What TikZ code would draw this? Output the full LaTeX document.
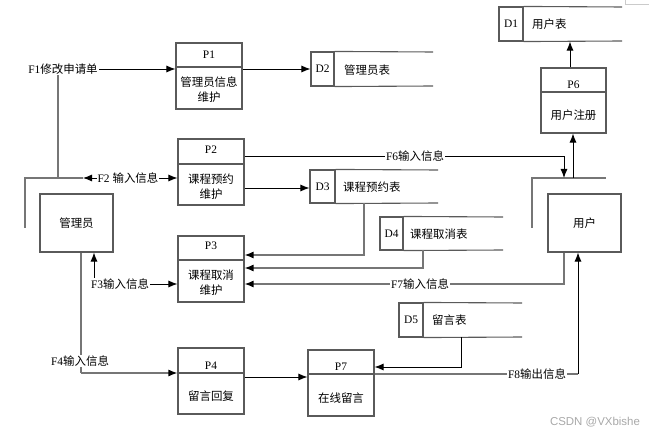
\documentclass[tikz,border=0pt]{standalone}
\usepackage{fontspec}
\setmainfont{Liberation Serif}
\newfontfamily\cjk{Noto Sans CJK SC}
\newfontfamily\wmfont{Liberation Sans}
\usetikzlibrary{arrows.meta}
\definecolor{boxgray}{HTML}{5A5A5A}
\definecolor{linegray}{HTML}{767676}
\definecolor{wmgray}{HTML}{A8A8A8}
\begin{document}
\begin{tikzpicture}[x=1bp,y=-1bp,
  every node/.style={font=\rmfamily\fontsize{11.5}{16}\selectfont, inner sep=0pt},
  box/.style={draw=boxgray, line width=1.1bp},
  idcell/.style={draw=boxgray, line width=1.1bp},
  sline/.style={draw=boxgray, line width=1.1bp},
  gl/.style={draw=linegray, line width=1.3bp},
  bl/.style={draw=black, line width=0.9bp},
  tip/.style={-{Latex[length=9bp,width=7bp,color=black]}},
  tips/.style={{Latex[length=9bp,width=7bp,color=black]}-{Latex[length=9bp,width=7bp,color=black]}},
  lab/.style={fill=white, inner sep=1bp},
  txt/.style={align=center}
]
\useasboundingbox (0,0) rectangle (657,437);
\draw[draw=wmgray!60, line width=0.6bp] (625,0) -- (625,4) -- (649,4);

% ---------- processes ----------
\node[box, minimum width=66bp, minimum height=66bp] (P1) at (209,76) {};
\draw[sline] (176,67) -- (242,67);
\node (P1h) at (209,55) {P1};
\node[txt] (P1t) at (209,90) {\cjk 管理员信息\\[-1bp]\cjk 维护};

\node[box, minimum width=66bp, minimum height=66bp] (P2) at (211,172) {};
\draw[sline] (178,164) -- (244,164);
\node (P2h) at (211,150) {P2};
\node[txt] (P2t) at (211,187) {\cjk 课程预约\\[-1bp]\cjk 维护};

\node[box, minimum width=66bp, minimum height=66bp] (P3) at (211,269) {};
\draw[sline] (178,260) -- (244,260);
\node (P3h) at (211,246) {P3};
\node[txt] (P3t) at (211,283) {\cjk 课程取消\\[-1bp]\cjk 维护};

\node[box, minimum width=66bp, minimum height=66bp] (P4) at (211,381) {};
\draw[sline] (178,373) -- (244,373);
\node (P4h) at (211,366) {P4};
\node (P4t) at (211,396) {\cjk 留言回复};

\node[box, minimum width=66bp, minimum height=66bp] (P7) at (341,383) {};
\draw[sline] (308,374) -- (374,374);
\node (P7h) at (341,367) {P7};
\node (P7t) at (341,398) {\cjk 在线留言};

\node[box, minimum width=65bp, minimum height=65bp] (P6) at (573.5,100.5) {};
\draw[sline] (541,92) -- (606,92);
\node (P6h) at (573.5,85) {P6};
\node (P6t) at (573.5,115) {\cjk 用户注册};

% ---------- data stores ----------
\node[idcell, minimum width=24bp, minimum height=34bp] (D1) at (511,24) {D1};
\draw[sline] (D1.north east) -- (622,7);
\draw[sline] (D1.south east) -- (622,41);
\node[anchor=west] (D1t) at (532,24) {\cjk 用户表};

\node[idcell, minimum width=23bp, minimum height=34bp] (D2) at (322.5,69) {D2};
\draw[sline] (D2.north east) -- (433,52);
\draw[sline] (D2.south east) -- (433,86);
\node[anchor=west] (D2t) at (344,70) {\cjk 管理员表};

\node[idcell, minimum width=25bp, minimum height=33bp] (D3) at (322.5,186.5) {D3};
\draw[sline] (D3.north east) -- (438,170);
\draw[sline] (D3.south east) -- (438,203);
\node[anchor=west] (D3t) at (343,187) {\cjk 课程预约表};

\node[idcell, minimum width=23bp, minimum height=33bp] (D4) at (391.5,233.5) {D4};
\draw[sline] (D4.north east) -- (503,217);
\draw[sline] (D4.south east) -- (503,250);
\node[anchor=west] (D4t) at (410,234) {\cjk 课程取消表};

\node[idcell, minimum width=24bp, minimum height=34bp] (D5) at (411,320) {D5};
\draw[sline] (D5.north east) -- (522,303);
\draw[sline] (D5.south east) -- (522,337);
\node[anchor=west] (D5t) at (432,320) {\cjk 留言表};

% ---------- external entities ----------
\node[box, minimum width=73bp, minimum height=58bp] (adm) at (76.5,223) {\cjk 管理员};
\coordinate (admA) at (25,228);
\coordinate (admB) at (25,178);
\coordinate (admC) at (83,178);
\coordinate (admF1) at (58,178);
\draw[gl] (admA) -- (admB) -- (admC);

\node[box, minimum width=73bp, minimum height=58bp] (usr) at (584.5,223) {\cjk 用户};
\coordinate (usrA) at (532,228);
\coordinate (usrB) at (532,178);
\coordinate (usrC) at (606,178);
\draw[gl] (usrA) -- (usrB) -- (usrC);

% store bottom taps
\coordinate (D3b) at (364,203);
\coordinate (D4b) at (423,250);
\coordinate (D5b) at (461,337);

% ---------- connectors ----------
% F1
\draw[gl] (admF1) -- (58,69);
\draw[bl,tip] (58,69) -- (P1.west |- 0,69);
\node[lab] (F1) at (63,69) {F1\cjk 修改申请单};

% P1 -> D2
\draw[bl,tip] (P1.east |- D2.west) -- (D2.west);

% F2
\draw[bl,tips] (admC) -- (P2.west |- admC);
\node[lab] (F2) at (128,178) {F2 \cjk 输入信息};

% P2 -> D3
\draw[bl,tip] (P2.east |- 0,188) -- (D3.west |- 0,188);

% F6
\draw[bl,tip] (P2.east |- 0,156) -| (564,178);
\node[lab] (F6) at (415,156) {F6\cjk 输入信息};

% P6 arrows
\draw[bl,tip] (P6.north -| 570,0) -- (D1.south -| 570,0);
\draw[bl,tip] (573,178) -- (P6.south -| 573,0);

% D3 -> P3, D4 -> P3
\draw[gl,tip] (D3b) |- (P3.east |- 0,255);
\draw[gl,tip] (D4b) |- (P3.east |- 0,268);

% F7
\draw[gl,tip] (usr.south -| 564,0) |- (P3.east |- 0,284);
\node[lab] (F7) at (420,284) {F7\cjk 输入信息};

% F3
\draw[bl,tips] (adm.south -| 94,0) |- (P3.west |- 0,284);
\node[lab] (F3) at (120,284) {F3\cjk 输入信息};

% F4
\draw[gl] (adm.south -| 81,0) -- (81,373);
\draw[gl,tip] (81,373) -- (P4.west |- 0,373);
\node[lab] (F4) at (80,361) {F4\cjk 输入信息};

% P4 -> P7
\draw[bl,tip] (P4.east |- 0,377) -- (P7.west |- 0,377);

% D5 -> P7
\draw[bl,tip] (D5b) |- (P7.east |- 0,367);

% F8
\draw[gl] (P7.east |- 0,374) -- (578,374);
\draw[bl,tip] (578,374) -- (usr.south -| 578,0);
\node[lab] (F8) at (537,374) {F8\cjk 输出信息};

% watermark
\node[text=wmgray, font=\wmfont\fontsize{11.5}{13}\selectfont] (wm) at (595,422) {CSDN @VXbishe};
\end{tikzpicture}
\end{document}
